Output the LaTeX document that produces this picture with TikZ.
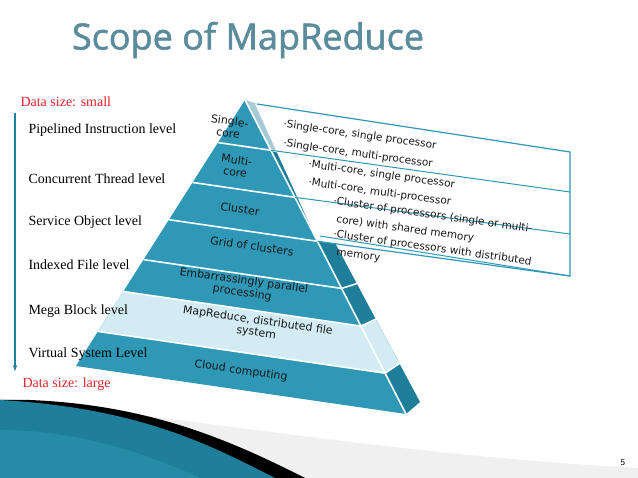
\documentclass[tikz,border=0pt]{standalone}
\usepackage{fontspec}
\setmainfont{Liberation Serif}
\newfontfamily\dv{DejaVu Sans}
\newfontfamily\tit{Open Sans}
\usetikzlibrary{calc,arrows.meta}
\definecolor{teal1}{HTML}{2E98B6}
\definecolor{teal2}{HTML}{1F7E99}
\definecolor{light1}{HTML}{D3EBF3}
\definecolor{titc}{HTML}{5A8C9C}
\definecolor{redc}{HTML}{E0242A}
\tikzset{
 lvl/.style={font=\fontsize{14}{16}\selectfont, anchor=west},
 pyr/.style={font=\dv\fontsize{11}{12}\selectfont, rotate=-8, align=center, text=black!90},
 pan/.style={font=\dv\fontsize{10.5}{11}\selectfont, rotate=-8, anchor=west, text=black!90},
 sep/.style={white, line width=1.6pt}
}
\begin{document}
\begin{tikzpicture}[x=1pt,y=-1pt]
\useasboundingbox (0,0) rectangle (638,478);
\fill[white] (0,0) rectangle (638,478);
% title
\node[font=\tit\fontsize{36}{38}\selectfont, text=titc] (title) at (248,40) {\addfontfeature{FakeBold=1.5}Scope of MapReduce};
% bottom swoosh
\fill[gray!12] (0,398) .. controls (200,420) and (400,455) .. (638,468) -- (638,478) -- (0,478) -- cycle;
\fill[black] (30,400) .. controls (150,405) and (230,440) .. (305,478) -- (0,478) -- (0,400) -- cycle;
\fill[teal2] (0,400) .. controls (140,408) and (210,445) .. (275,478) -- (0,478) -- cycle;
\fill[teal1,opacity=0.5] (0,430) .. controls (80,430) and (150,455) .. (200,478) -- (0,478) -- cycle;
\node[font=\sffamily\fontsize{9}{10}\selectfont] (pg) at (623,463) {5};
% pyramid
\coordinate (A) at (245,100);
\coordinate (L) at (76,366);
\coordinate (R) at (406,414);
\coordinate (S) at (420,402);
\fill[teal1] (A) -- (L) -- (R) -- cycle;
\fill[teal2] (A) -- (262,106) -- (S) -- (R) -- cycle;
\fill[light1] ($(A)!0.72!(L)$) -- ($(A)!0.87!(L)$) -- ($(A)!0.87!(R)$) -- ($(A)!0.72!(R)$) -- cycle;
\fill[light1] ($(A)!0.72!(R)$) -- ($(A)!0.87!(R)$) -- ($(262,106)!0.87!(S)$) -- ($(262,106)!0.72!(S)$) -- cycle;
\fill[white,opacity=0.6] (A) -- ($(A)!0.16!(R)$) -- ($(262,106)!0.16!(S)$) -- (262,106) -- cycle;
\foreach \t in {0.16,0.31,0.45,0.60,0.72,0.87}{
  \draw[sep] ($(A)!\t!(L)$) -- ($(A)!\t!(R)$) -- ($(262,106)!\t!(S)$);
}
\draw[sep] (A) -- (R);
% panel
\fill[white] (255,104) -- (570,152) -- (570,276) -- ($(A)!0.45!(R)$) -- cycle;
\draw[teal1, line width=1.2pt] (257,104) -- (570,152) -- (570,276) -- ($(A)!0.45!(R)$);
\draw[teal1, line width=1pt] ($(A)!0.16!(R)$) -- (570,192);
\draw[teal1, line width=1pt] ($(A)!0.31!(R)$) -- (570,234);
\draw[teal1, line width=1pt] (320,236) -- (570,276);
% pyramid labels
\node[pyr] (p1) at (229,127) {Single-\\core};
\node[pyr] (p2) at (236,166) {Multi-\\core};
\node[pyr] (p3) at (240,209) {Cluster};
\node[pyr] (p4) at (252,246) {Grid of clusters};
\node[pyr] (p5) at (243,287) {Embarrassingly parallel\\processing};
\node[pyr] (p6) at (257,327) {MapReduce, distributed file\\system};
\node[pyr] (p7) at (241,371) {Cloud computing};
% panel text
\node[pan] (t1) at (280,124) {·Single-core, single processor};
\node[pan] (t2) at (280,143) {·Single-core, multi-processor};
\node[pan] (t3) at (305,164) {·Multi-core, single processor};
\node[pan] (t4) at (305,182) {·Multi-core, multi-processor};
\node[pan] (t5) at (330,201) {·Cluster of processors (single or multi-};
\node[pan] (t6) at (333,219) {core) with shared memory};
\node[pan] (t7) at (330,234) {·Cluster of processors with distributed};
\node[pan] (t8) at (333,253) {memory};
% left
\node[lvl, text=redc] (ds) at (17,102) {Data size: small};
\node[lvl, text=redc] (dl) at (19,384) {Data size: large};
\node[lvl] (l1) at (25,130) {Pipelined Instruction level};
\node[lvl] (l2) at (25,179) {Concurrent Thread level};
\node[lvl] (l3) at (25,222) {Service Object level};
\node[lvl] (l4) at (25,265) {Indexed File level};
\node[lvl] (l5) at (25,311) {Mega Block level};
\node[lvl] (l6) at (25,354) {Virtual System Level};
\coordinate (a1) at (15,113);
\coordinate (a2) at (15,371);
\draw[teal2, line width=1.2pt, -{Stealth[length=6pt]}] (a1) -- (a2);
\end{tikzpicture}
\end{document}
